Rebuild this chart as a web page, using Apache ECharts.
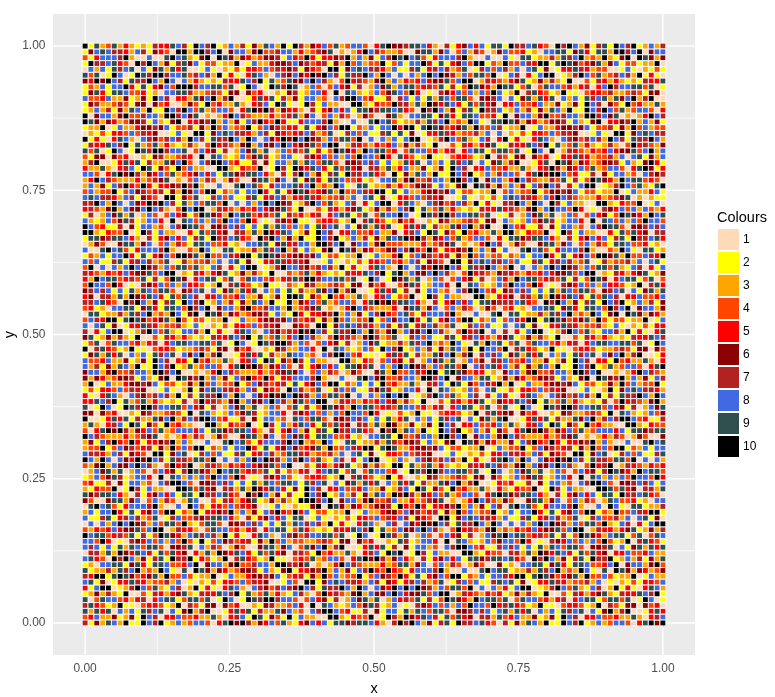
<!DOCTYPE html>
<html>
<head>
<meta charset="utf-8">
<script src="https://cdn.jsdelivr.net/npm/echarts@6/dist/echarts.min.js"></script>
<style>html,body{margin:0;padding:0;background:#fff}#c{width:775px;height:697px}</style>
</head>
<body>
<div id="c"></div>
<script>
// Legend categories and their colours
const colourNames = ['1','2','3','4','5','6','7','8','9','10'];
const colourValues = ['#FFDAB9','#FFFF00','#FFA500','#FF4500','#FF0000','#8B0000','#B22222','#4169E1','#2F4F4F','#000000'];
const tickValues = [0, 0.25, 0.5, 0.75, 1];
const gridValues = [0, 0.125, 0.25, 0.375, 0.5, 0.625, 0.75, 0.875, 1];
const nCells = 100;

// Patches of cell codes (rows top -> bottom, 18 columns each)
// patchA: top-left corner (row 0, col 0)
const patchA = [
[10,2,9,3,4,9,3,5,3,2,3,2,7,5,5,9,8,7],
[2,6,8,9,8,7,7,5,3,8,7,2,6,5,4,1,10,10],
[4,2,5,8,8,8,7,10,3,1,1,8,1,1,9,10,8,9],
[2,10,7,7,8,9,5,4,1,10,7,10,8,3,6,2,7,9],
[1,8,3,8,2,9,7,8,9,1,8,2,6,9,3,9,5,9],
[9,4,9,1,2,10,8,1,2,10,9,7,10,10,7,8,8,9],
[6,5,10,6,10,8,7,2,9,7,7,10,8,3,10,8,1,8],
[2,4,3,8,2,8,8,10,5,2,9,2,5,6,8,4,10,10],
[2,6,9,5,2,9,9,8,4,4,5,2,3,1,8,8,9,9],
[8,4,4,5,8,3,3,6,2,3,6,2,10,8,7,1,5,5],
[2,6,7,3,3,4,7,4,2,6,6,1,6,4,5,1,1,3]
];
// patchB: centre (row 49, col 50)
const patchB = [
[4,3,6,10,3,8,6,6,8,10,8,7,3,1,4,10,5,7],
[7,3,4,9,1,2,7,8,4,8,2,2,7,9,2,5,7,8],
[9,2,3,3,7,3,9,7,8,10,3,4,3,10,8,2,1,9],
[2,10,8,7,10,2,3,8,3,7,2,6,3,9,8,3,10,2],
[1,2,5,9,5,9,2,7,3,3,9,6,8,10,3,7,10,1],
[1,4,8,5,6,2,7,1,3,8,6,9,3,9,1,3,8,4],
[1,8,3,8,10,8,10,6,7,3,8,4,9,9,4,10,1,8],
[6,9,3,10,4,4,8,7,5,10,10,2,9,10,9,6,4,5],
[6,10,4,4,7,8,8,3,10,10,7,8,10,1,6,8,8,3],
[2,10,4,5,3,3,9,3,1,5,7,8,2,10,9,2,6,4],
[6,9,7,2,3,8,8,5,1,10,1,9,8,3,2,3,8,4]
];
// patchC: upper right (row 18, col 80)
const patchC = [
[10,1,3,7,5,4,3,5,4,5,8,5,6,6,9,4,8,10],
[1,2,5,5,9,7,5,3,4,4,7,3,8,1,8,9,2,6],
[1,10,9,6,3,6,5,3,4,6,6,7,2,8,3,2,6,10],
[10,7,3,6,5,8,4,9,3,4,8,8,4,1,5,9,10,6],
[10,10,8,4,5,2,2,7,1,6,2,8,8,3,4,1,8,7],
[7,4,9,2,7,2,4,10,9,6,5,3,10,8,9,9,4,5],
[8,7,1,5,2,8,10,10,1,2,3,7,10,8,4,9,3,2],
[6,6,7,6,8,2,4,4,2,3,3,10,1,2,8,3,3,5],
[5,10,8,7,4,3,3,3,5,3,4,7,6,9,1,3,1,3],
[10,7,2,8,3,3,1,1,10,10,3,2,5,4,4,10,1,2],
[10,8,8,4,10,5,1,2,1,7,6,5,8,4,8,3,8,4]
];
// patchD: lower left (row 78, col 20)
const patchD = [
[1,1,4,2,7,5,3,5,6,9,2,3,6,3,7,3,2,10],
[4,2,5,5,4,8,4,7,5,6,1,1,2,8,2,1,3,2],
[2,5,5,6,7,10,3,8,3,6,2,8,7,10,5,4,10,5],
[6,7,9,9,8,5,3,1,7,2,5,6,8,5,8,2,9,9],
[4,9,9,4,1,6,6,7,8,7,8,2,8,2,9,3,9,8],
[1,4,9,8,8,4,5,3,5,7,1,5,8,9,9,2,4,9],
[7,8,7,3,10,2,5,2,1,5,9,8,3,1,8,7,6,4],
[10,2,4,8,6,7,4,5,7,2,6,3,10,4,8,3,4,4],
[8,3,7,4,1,3,6,4,1,1,6,9,9,3,6,8,1,4],
[3,9,3,10,6,5,9,8,5,2,9,4,9,5,6,1,7,7],
[5,4,2,3,10,1,7,9,5,4,2,3,10,2,2,1,4,5]
];
const patchAnchors = [[patchA,0,0],[patchB,49,50],[patchC,18,80],[patchD,78,20]];

// Build the 100 x 100 grid from the read patches (remaining cells reuse read rows)
const pool = patchA.concat(patchB, patchC, patchD);
const codes = [];
for (let r = 0; r < nCells; r++) {
  const row = [];
  for (let c = 0; c < nCells; c++) {
    row.push(pool[(r * 5 + Math.floor(c / 18) * 11 + 3) % pool.length][(c + r * 7) % 18]);
  }
  codes.push(row);
}
patchAnchors.forEach(([p, r0, c0]) => {
  p.forEach((row, i) => row.forEach((v, j) => {
    if (r0 + i < nCells && c0 + j < nCells) codes[r0 + i][c0 + j] = v;
  }));
});

const step = 1 / (nCells - 1);
const seriesData = colourNames.map(() => []);
for (let r = 0; r < nCells; r++) {
  for (let c = 0; c < nCells; c++) {
    const k = codes[r][c] - 1;
    seriesData[k].push([c * step, (nCells - 1 - r) * step]);
  }
}

const chart = echarts.init(document.getElementById('c'), null, {renderer: 'canvas'});
const lo = -0.5 * step - 0.05 * (1 + step), hi = 1 + 0.5 * step + 0.05 * (1 + step);

function tileItem(params, api) {
  const p = api.coord([api.value(0), api.value(1)]);
  const s = api.size([step, step]);
  return {
    type: 'rect',
    shape: {x: p[0] - s[0] / 2, y: p[1] - s[1] / 2, width: s[0], height: s[1]},
    style: {fill: api.visual('color'), stroke: '#ffffff', lineWidth: 0.9}
  };
}

const series = colourNames.map((name, k) => ({
  name: name,
  type: 'custom',
  renderItem: tileItem,
  data: seriesData[k],
  itemStyle: {color: colourValues[k]},
  encode: {x: 0, y: 1},
  progressive: 0,
  z: 3,
  silent: true
}));

series.push({
  name: 'gridlines',
  type: 'custom',
  z: 1,
  silent: true,
  data: gridValues.map(v => [v]),
  renderItem: function (params, api) {
    const v = api.value(0);
    const cs = params.coordSys;
    const px = api.coord([v, lo])[0];
    const py = api.coord([lo, v])[1];
    const major = tickValues.indexOf(v) >= 0;
    const w = major ? 1.4 : 0.7;
    return {
      type: 'group',
      children: [
        {type: 'line', shape: {x1: px, y1: cs.y, x2: px, y2: cs.y + cs.height}, style: {stroke: '#ffffff', lineWidth: w}},
        {type: 'line', shape: {x1: cs.x, y1: py, x2: cs.x + cs.width, y2: py}, style: {stroke: '#ffffff', lineWidth: w}}
      ]
    };
  }
});

const fontFam = 'Liberation Sans, Arial, sans-serif';
chart.setOption({
  animation: false,
  backgroundColor: '#ffffff',
  title: {
    text: 'Colours', left: 717, top: 210, padding: 0,
    textStyle: {fontFamily: fontFam, fontSize: 14.5, fontWeight: 'normal', color: '#000'}
  },
  legend: {
    data: colourNames,
    orient: 'vertical',
    left: 718, top: 229,
    padding: 0,
    itemWidth: 21, itemHeight: 21, itemGap: 2,
    icon: 'rect',
    selectedMode: false,
    textStyle: {fontFamily: fontFam, fontSize: 12, color: '#000', padding: [0, 0, 0, -1]}
  },
  grid: {
    left: 53, top: 14, width: 642, height: 641,
    outerBoundsMode: 'none',
    show: true, backgroundColor: '#EBEBEB', borderWidth: 0, containLabel: false
  },
  xAxis: {
    type: 'value', min: lo, max: hi,
    name: 'x', nameLocation: 'middle', nameGap: 26, nameMoveOverlap: false,
    nameTextStyle: {fontFamily: fontFam, fontSize: 14.5, color: '#000'},
    axisLine: {show: false},
    axisTick: {show: true, length: 4, customValues: tickValues, lineStyle: {color: '#333333', width: 1}},
    axisLabel: {customValues: tickValues, margin: 8, fontFamily: fontFam, fontSize: 12, color: '#4D4D4D',
      formatter: v => v.toFixed(2)},
    splitLine: {show: false}
  },
  yAxis: {
    type: 'value', min: lo, max: hi,
    name: 'y', nameLocation: 'middle', nameGap: 36, nameRotate: 90, nameMoveOverlap: false,
    nameTextStyle: {fontFamily: fontFam, fontSize: 14.5, color: '#000'},
    axisLine: {show: false},
    axisTick: {show: true, length: 4, customValues: tickValues, lineStyle: {color: '#333333', width: 1}},
    axisLabel: {customValues: tickValues, margin: 7.5, fontFamily: fontFam, fontSize: 12, color: '#4D4D4D',
      formatter: v => v.toFixed(2)},
    splitLine: {show: false}
  },
  series: series
});
</script>
</body>
</html>
